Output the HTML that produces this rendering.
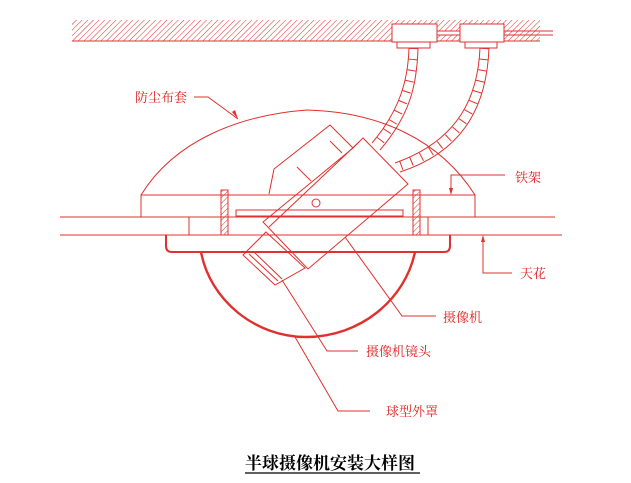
<!DOCTYPE html>
<html><head><meta charset="utf-8"><style>
html,body{margin:0;padding:0;background:#fff;width:631px;height:483px;overflow:hidden}
svg{display:block}
text{font-family:"Liberation Sans","Noto Serif CJK SC","Noto Sans CJK SC",serif;fill:#e02020}
</style></head><body>
<svg width="631" height="483" viewBox="0 0 631 483" xmlns="http://www.w3.org/2000/svg">
<defs>
<pattern id="h" width="4" height="4" patternUnits="userSpaceOnUse" patternTransform="rotate(45)">
<line x1="0" y1="0" x2="0" y2="4" stroke="#e03030" stroke-width="1"/>
</pattern>
</defs>
<g fill="none" stroke="#e03030" stroke-width="1">
<rect x="72" y="20" width="468" height="21" fill="url(#h)" stroke="none"/>
<line x1="72" y1="41" x2="540" y2="41"/>
<rect x="392" y="24" width="45" height="18" fill="#fff"/>
<rect x="397" y="42" width="33" height="6" fill="#fff"/>
<rect x="460" y="24" width="44" height="18" fill="#fff"/>
<rect x="465" y="42" width="32" height="6" fill="#fff"/>
<rect x="437" y="31" width="23" height="4" fill="#fff"/>
<line x1="504" y1="31" x2="553" y2="31"/><line x1="504" y1="35" x2="553" y2="35"/>
<path d="M413.5 48 C412.5 80 404 112 376 146" stroke-width="9" stroke-dasharray="1 10"/>
<path d="M409 48 C408 80 400 110 372 143"/>
<path d="M418 48 C417 85 410 115 380 150"/>
<path d="M484.5 48 C482.5 97 464 145 397 167" stroke-width="9" stroke-dasharray="1 10"/>
<path d="M480 48 C478 95 460 140 395 163"/>
<path d="M489 48 C487 100 468 150 400 172"/>
<path d="M141 195 C175 140 240 115 307 110 C380 112 440 140 475 195"/>
<rect x="141" y="195" width="334" height="22" fill="#fff"/>
<line x1="60" y1="217" x2="555" y2="217"/>
<line x1="60" y1="235" x2="562" y2="235"/>
<line x1="189" y1="217" x2="189" y2="235"/>
<line x1="428" y1="217" x2="428" y2="235"/>
<rect x="236" y="210" width="167" height="6"/>
<rect x="221" y="190" width="7" height="45" fill="url(#h)"/>
<rect x="413" y="190" width="7" height="45" fill="url(#h)"/>
<path d="M166 235 V246 Q166 252 172 252 H444 Q450 252 450 246 V235" stroke-width="2"/>
<path d="M201 252 C210 300 255 337 306 337 C360 337 405 300 415 252" stroke-width="2.4"/>
<polyline points="269,194 274,169 330,125 353,148"/>
<line x1="330" y1="141" x2="342" y2="153"/><line x1="297" y1="167" x2="311" y2="181"/>
<polygon points="363,138 408,184 308,269 263,222 353,148"/>
<line x1="359" y1="142" x2="269" y2="227"/>
<circle cx="316" cy="203" r="4"/>
<polygon points="266,232 305,268 275,285 243,255"/>
<line x1="249" y1="254" x2="278" y2="281"/>
<line x1="254" y1="252" x2="282" y2="279"/>
<polyline points="194,97 208,97 238,119"/>
<polyline points="505,175 451,175 451,193"/>
<polyline points="512,273 483,273 483,237"/>
<polyline points="345,237 402,316 436,316"/>
<polyline points="282,280 327,351 358,351"/>
<polyline points="295,337 338,411 370,411"/>
</g>
<g fill="#e03030">
<polygon points="238,119 232,112 235,110"/>
<polygon points="451,195 449,188 453,188"/>
<polygon points="483,235 481,242 485,242"/>
</g>
<g font-size="13">
<text x="135" y="102">防尘布套</text>
<text x="515" y="182">铁架</text>
<text x="520" y="278">天花</text>
<text x="443" y="322">摄像机</text>
<text x="366" y="356">摄像机镜头</text>
<text x="386" y="416">球型外罩</text>
</g>
<text x="245" y="469" font-size="17" style="fill:#000;font-weight:bold">半球摄像机安装大样图</text>
<line x1="245" y1="473" x2="420" y2="473" stroke="#000" stroke-width="1.3"/>
</svg>
</body></html>
